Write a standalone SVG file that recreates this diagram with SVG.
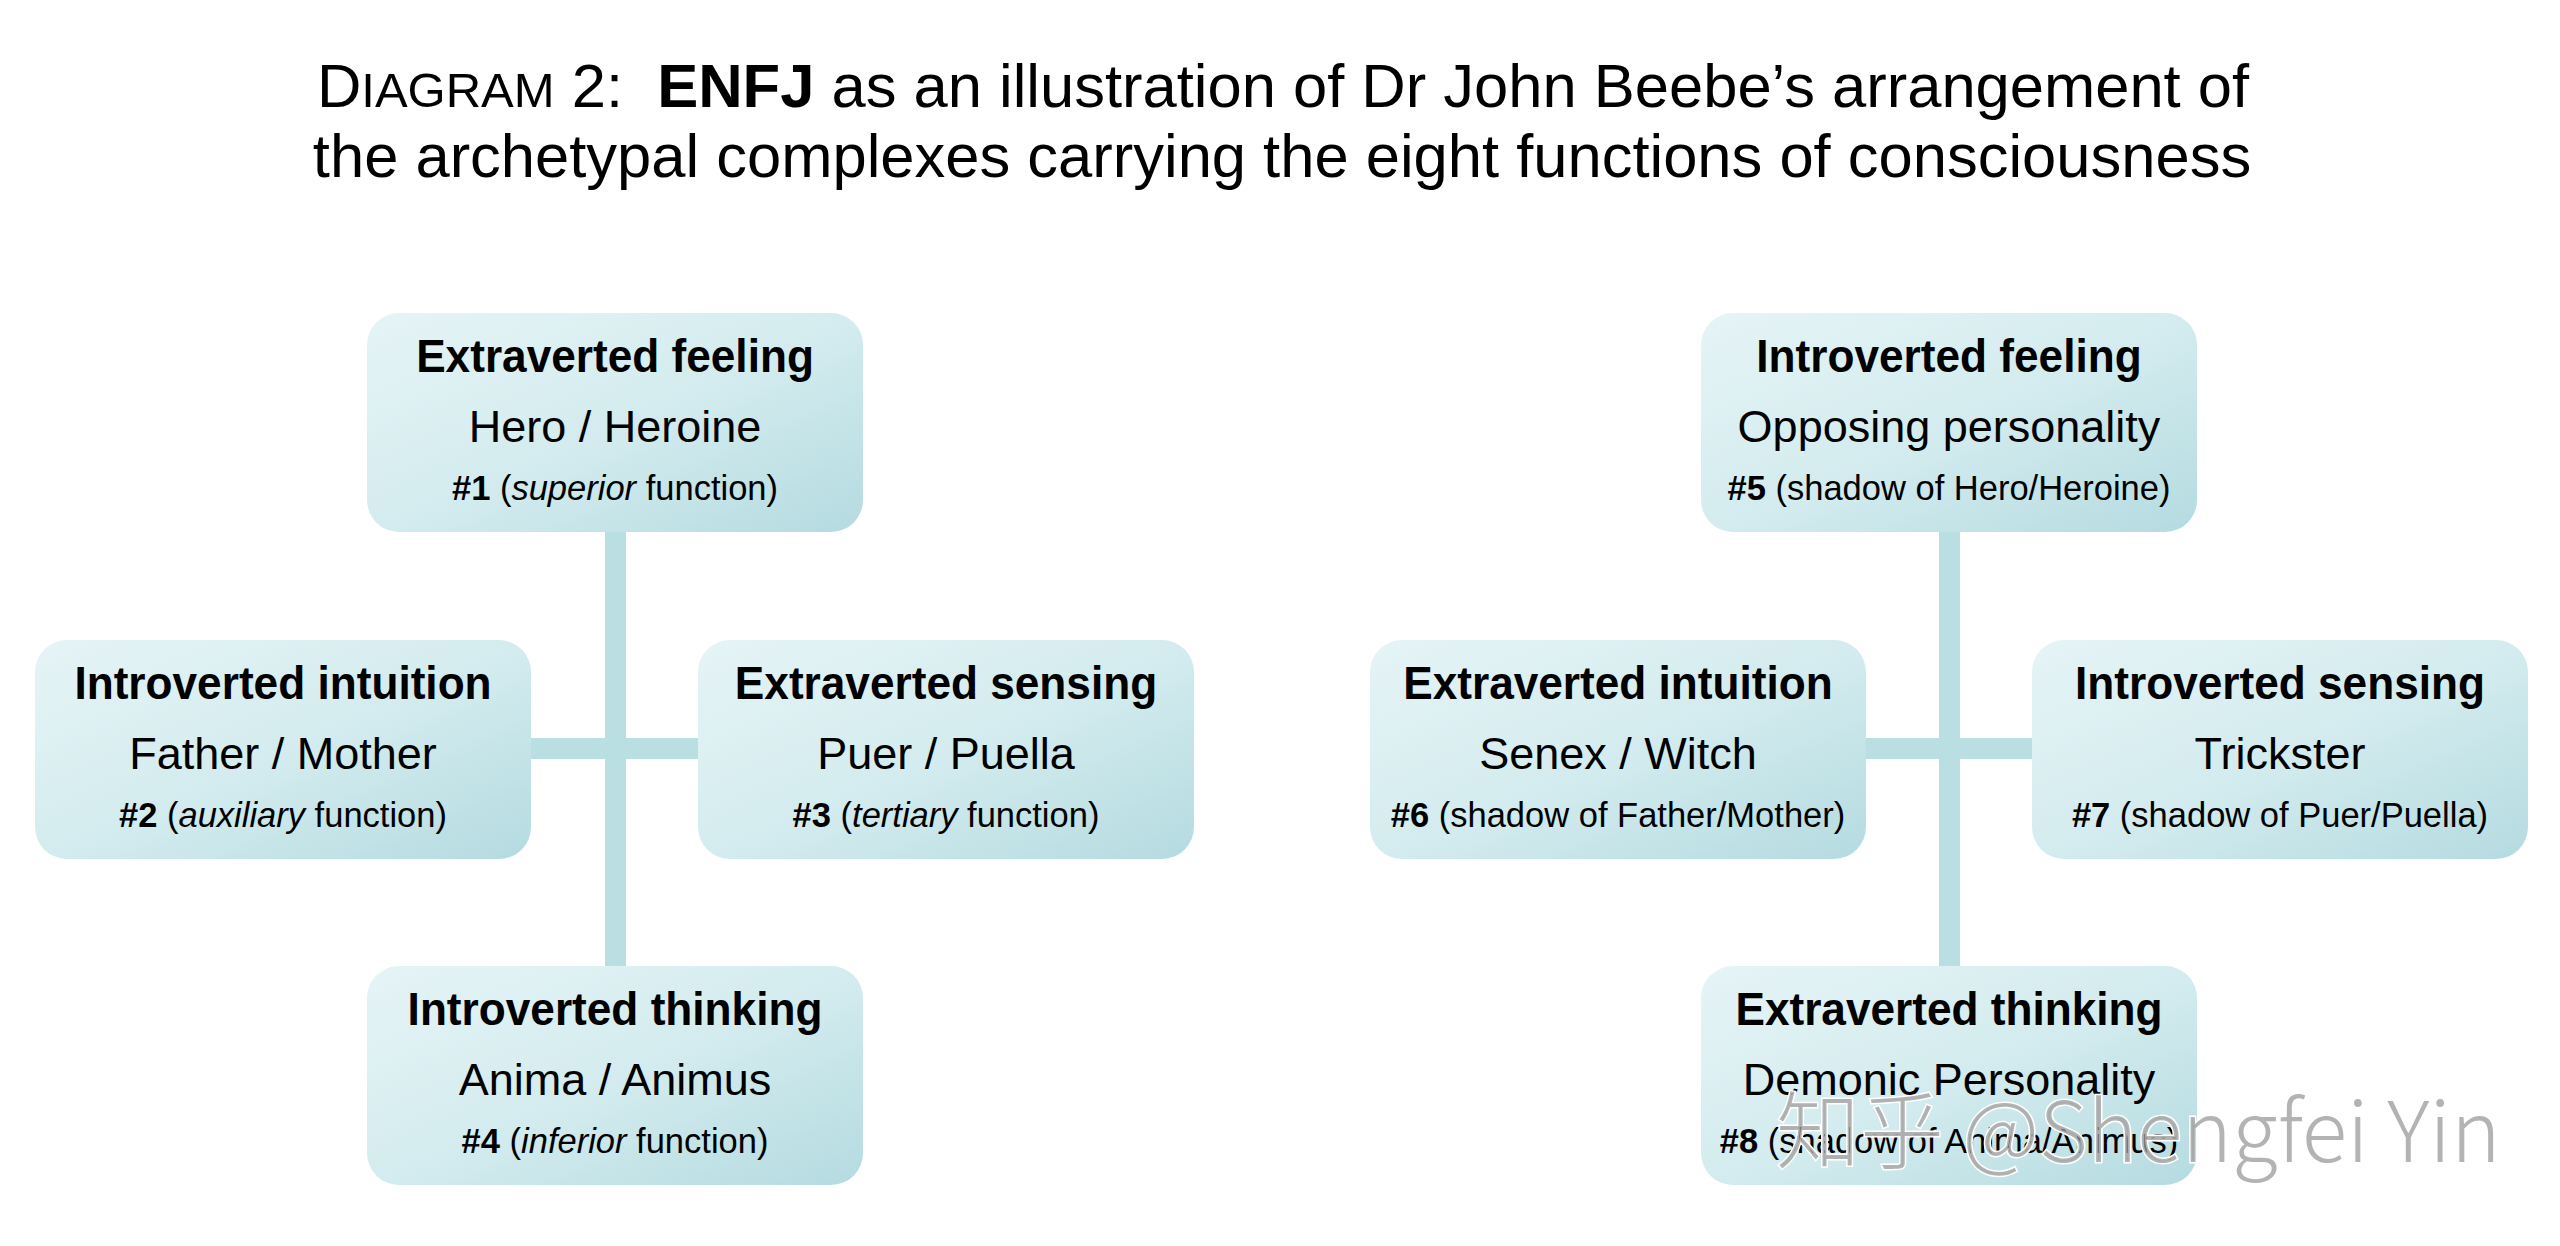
<svg xmlns="http://www.w3.org/2000/svg" width="2560" height="1246" viewBox="0 0 2560 1246">
<defs>
<linearGradient id="boxg" x1="0" y1="0" x2="1" y2="1">
<stop offset="0" stop-color="#e6f4f6"/>
<stop offset="0.5" stop-color="#d4ecef"/>
<stop offset="1" stop-color="#b4dbe0"/>
</linearGradient>
<style>
.box{fill:url(#boxg);}
.bar{fill:#b9dfe2;}
.t1{font-family:"Liberation Sans",Arial,sans-serif;font-weight:bold;font-size:47px;text-anchor:middle;fill:#000;}
.t2{font-family:"Liberation Sans",Arial,sans-serif;font-size:45px;text-anchor:middle;fill:#000;}
.t3{font-family:"Liberation Sans",Arial,sans-serif;font-size:34.5px;text-anchor:middle;fill:#000;}
.b{font-weight:bold;}
.i{font-style:italic;}
.title{font-family:"Liberation Sans",Arial,sans-serif;font-size:61.5px;text-anchor:middle;fill:#000;}
.wm{font-family:"Noto Sans CJK SC","Noto Sans",sans-serif;font-weight:300;font-size:84px;fill:#9a9a9a;fill-opacity:0.75;stroke:#ffffff;stroke-width:3;paint-order:stroke;}
</style>
</defs>
<rect width="2560" height="1246" fill="#ffffff"/>
<g id="title">
<text class="title" x="1283" y="107" xml:space="preserve">D<tspan font-size="49px">IAGRAM</tspan> 2:  <tspan class="b">ENFJ</tspan> as an illustration of Dr John Beebe’s arrangement of</text>
<text class="title" x="1282" y="177">the archetypal complexes carrying the eight functions of consciousness</text>
</g>
<g id="connectors">
<rect class="bar" x="605" y="520" width="21" height="460"/>
<rect class="bar" x="520" y="738" width="190" height="21"/>
<rect class="bar" x="1939" y="520" width="21" height="460"/>
<rect class="bar" x="1855" y="738" width="190" height="21"/>
</g>
<g id="node1">
<rect class="box" x="367" y="313" width="496" height="219" rx="32"/>
<text class="t1" transform="translate(615,372) scale(0.94,1)">Extraverted feeling</text>
<text class="t2" x="615" y="442">Hero / Heroine</text>
<text class="t3" x="615" y="500"><tspan class="b">#1</tspan> (<tspan class="i">superior</tspan> function)</text>
</g>
<g id="node2">
<rect class="box" x="35" y="640" width="496" height="219" rx="32"/>
<text class="t1" transform="translate(283,699) scale(0.94,1)">Introverted intuition</text>
<text class="t2" x="283" y="769">Father / Mother</text>
<text class="t3" x="283" y="827"><tspan class="b">#2</tspan> (<tspan class="i">auxiliary</tspan> function)</text>
</g>
<g id="node3">
<rect class="box" x="698" y="640" width="496" height="219" rx="32"/>
<text class="t1" transform="translate(946,699) scale(0.94,1)">Extraverted sensing</text>
<text class="t2" x="946" y="769">Puer / Puella</text>
<text class="t3" x="946" y="827"><tspan class="b">#3</tspan> (<tspan class="i">tertiary</tspan> function)</text>
</g>
<g id="node4">
<rect class="box" x="367" y="966" width="496" height="219" rx="32"/>
<text class="t1" transform="translate(615,1025) scale(0.94,1)">Introverted thinking</text>
<text class="t2" x="615" y="1095">Anima / Animus</text>
<text class="t3" x="615" y="1153"><tspan class="b">#4</tspan> (<tspan class="i">inferior</tspan> function)</text>
</g>
<g id="node5">
<rect class="box" x="1701" y="313" width="496" height="219" rx="32"/>
<text class="t1" transform="translate(1949,372) scale(0.94,1)">Introverted feeling</text>
<text class="t2" x="1949" y="442">Opposing personality</text>
<text class="t3" x="1949" y="500"><tspan class="b">#5</tspan> (shadow of Hero/Heroine)</text>
</g>
<g id="node6">
<rect class="box" x="1370" y="640" width="496" height="219" rx="32"/>
<text class="t1" transform="translate(1618,699) scale(0.94,1)">Extraverted intuition</text>
<text class="t2" x="1618" y="769">Senex / Witch</text>
<text class="t3" x="1618" y="827"><tspan class="b">#6</tspan> (shadow of Father/Mother)</text>
</g>
<g id="node7">
<rect class="box" x="2032" y="640" width="496" height="219" rx="32"/>
<text class="t1" transform="translate(2280,699) scale(0.94,1)">Introverted sensing</text>
<text class="t2" x="2280" y="769">Trickster</text>
<text class="t3" x="2280" y="827"><tspan class="b">#7</tspan> (shadow of Puer/Puella)</text>
</g>
<g id="node8">
<rect class="box" x="1701" y="966" width="496" height="219" rx="32"/>
<text class="t1" transform="translate(1949,1025) scale(0.94,1)">Extraverted thinking</text>
<text class="t2" x="1949" y="1095">Demonic Personality</text>
<text class="t3" x="1949" y="1153"><tspan class="b">#8</tspan> (shadow of Anima/Animus)</text>
</g>
<g id="watermark">
<text class="wm" x="1776" y="1162">知乎 @Shengfei Yin</text>
</g>
</svg>
